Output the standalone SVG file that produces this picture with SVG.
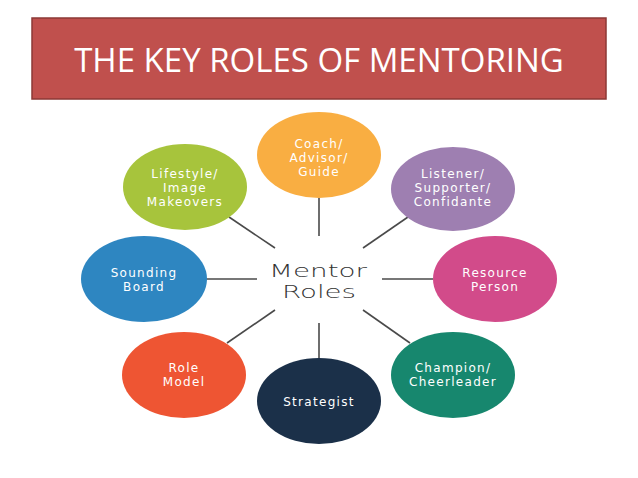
<svg xmlns="http://www.w3.org/2000/svg" width="638" height="478" viewBox="0 0 638 478">
<style>
.title{font-family:"Open Sans","Liberation Sans",sans-serif;font-size:33px;fill:#ffffff;text-anchor:middle}
.lbl{font-family:"DejaVu Sans","Liberation Sans",sans-serif;font-size:12px;fill:#ffffff;text-anchor:middle;letter-spacing:1.3px}
.ctr{font-family:"DejaVu Sans ExtraLight","DejaVu Sans","Liberation Sans",sans-serif;font-weight:200;font-size:18px;fill:#333333;text-anchor:middle}
.conn line{stroke:#4a4a4a;stroke-width:1.6}
</style>
<rect width="638" height="478" fill="#ffffff"/>
<g id="title">
<rect x="32" y="18" width="574" height="81" fill="#C0504D" stroke="#8C3836" stroke-width="1.5"/>
<text class="title" x="319" y="72">THE KEY ROLES OF MENTORING</text>
</g>
<g class="conn" id="connectors">
<line x1="319" y1="198" x2="319" y2="236"/>
<line x1="229" y1="217" x2="275" y2="248"/>
<line x1="205" y1="279" x2="257" y2="279"/>
<line x1="408" y1="217" x2="363" y2="248"/>
<line x1="382" y1="279" x2="433" y2="279"/>
<line x1="227" y1="343" x2="275" y2="310"/>
<line x1="319" y1="323" x2="319" y2="358"/>
<line x1="363" y1="310" x2="410" y2="343"/>
</g>
<g id="center">
<text class="ctr" x="318" y="277" textLength="98" lengthAdjust="spacingAndGlyphs">Mentor</text>
<text class="ctr" x="319" y="298" textLength="74" lengthAdjust="spacingAndGlyphs">Roles</text>
</g>
<g id="coach">
<ellipse cx="319" cy="155" rx="62" ry="43" fill="#F9AE42"/>
<text class="lbl" x="319" y="148">Coach/</text>
<text class="lbl" x="319" y="162">Advisor/</text>
<text class="lbl" x="319" y="176">Guide</text>
</g>
<g id="lifestyle">
<ellipse cx="185" cy="187" rx="62" ry="43" fill="#A7C43C"/>
<text class="lbl" x="185" y="178">Lifestyle/</text>
<text class="lbl" x="185" y="192">Image</text>
<text class="lbl" x="185" y="206">Makeovers</text>
</g>
<g id="listener">
<ellipse cx="453" cy="189" rx="62" ry="42" fill="#9E7FB1"/>
<text class="lbl" x="453" y="178">Listener/</text>
<text class="lbl" x="453" y="192">Supporter/</text>
<text class="lbl" x="453" y="206">Confidante</text>
</g>
<g id="sounding">
<ellipse cx="144" cy="279" rx="63" ry="43" fill="#2E86C1"/>
<text class="lbl" x="144" y="277">Sounding</text>
<text class="lbl" x="144" y="291">Board</text>
</g>
<g id="resource">
<ellipse cx="495" cy="279" rx="62" ry="43" fill="#D24B8A"/>
<text class="lbl" x="495" y="277">Resource</text>
<text class="lbl" x="495" y="291">Person</text>
</g>
<g id="rolemodel">
<ellipse cx="184" cy="375" rx="62" ry="43" fill="#EE5533"/>
<text class="lbl" x="184" y="372">Role</text>
<text class="lbl" x="184" y="386">Model</text>
</g>
<g id="strategist">
<ellipse cx="319" cy="401" rx="62" ry="43" fill="#1B3049"/>
<text class="lbl" x="319" y="406">Strategist</text>
</g>
<g id="champion">
<ellipse cx="453" cy="375" rx="62" ry="43" fill="#17876E"/>
<text class="lbl" x="453" y="372">Champion/</text>
<text class="lbl" x="453" y="386">Cheerleader</text>
</g>
</svg>
